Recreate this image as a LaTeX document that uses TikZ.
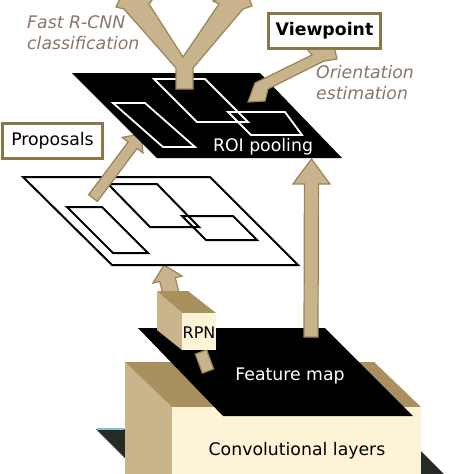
\documentclass[tikz,border=0pt]{standalone}
\usepackage{fontspec}
\setmainfont{DejaVu Sans}
\usetikzlibrary{calc}
\definecolor{tanfill}{HTML}{C8B48C}
\definecolor{tanline}{HTML}{9A8455}
\definecolor{boxline}{HTML}{8C7649}
\definecolor{tandark}{HTML}{A8915E}
\definecolor{tanside}{HTML}{C9B48C}
\definecolor{cream}{HTML}{FDF4D8}
\definecolor{labelc}{HTML}{8A766A}
\definecolor{photo}{HTML}{262B25}
\definecolor{skyblue}{HTML}{86BCE0}
\tikzset{
  arrowshape/.style={fill=tanfill, draw=tanline, line width=1.2pt, line join=miter},
  blackplane/.style={fill=black},
  whiteplane/.style={fill=white, draw=black, line width=2pt, line join=miter},
  whiterect/.style={draw=white, line width=1.8pt, line join=miter},
  blackrect/.style={draw=black, line width=2pt, line join=miter},
  bigfont/.style={font=\fontsize{17.3}{21}\selectfont},
  labelbox/.style={draw=boxline, line width=3pt, fill=white, text=black, inner sep=0pt, bigfont},
  lbl/.style={text=labelc, font=\fontsize{17.3}{21}\selectfont\itshape, align=left, anchor=west, inner sep=0pt},
}
\newcommand\fatarrow[5]{%
  \coordinate (fa-h) at ($(#2)!#5!(#1)$);
  \draw[arrowshape] ($(#1)!#3!90:(#2)$) -- ($(fa-h)!#3!90:(#2)$) -- ($(fa-h)!#4!90:(#2)$) -- (#2)
    -- ($(fa-h)!#4!-90:(#2)$) -- ($(fa-h)!#3!-90:(#2)$) -- ($(#1)!#3!-90:(#2)$) -- cycle;
}
\begin{document}
\begin{tikzpicture}[x=1pt, y=-1pt]
\useasboundingbox (0,0) rectangle (474,474);
\begin{scope}
\clip (0,0) rectangle (474,474);
\fill[white] (0,0) rectangle (474,474);

% input photo plane
\fill[photo] (96,429) -- (399,429) -- (450,480) -- (147,480) -- cycle;
\draw[skyblue, line width=2pt] (97,429) -- (124,429);

% convolutional box
\fill[tanside] (125,362) -- (172,407) -- (172,480) -- (125,480) -- cycle;
\fill[tandark] (125,362) -- (374,362) -- (421,407) -- (172,407) -- cycle;
\fill[cream] (172,407) -- (421,407) -- (421,480) -- (172,480) -- cycle;
\node[bigfont, text=black] (conv) at (297,451) {Convolutional layers};

% feature map
\fill[blackplane] (138,328) -- (325,328) -- (413,416) -- (223,416) -- cycle;
\node[bigfont, text=white] (fmap) at (290,376) {Feature map};

% big arrow feature map -> ROI pooling
\coordinate (va-tail) at (311,337);
\coordinate (va-tip) at (311.5,159);
\fatarrow{va-tail}{va-tip}{7pt}{18.5pt}{25pt}

% RPN stub, RPN up arrow, RPN box
\coordinate (rs-a) at (201,352);
\coordinate (rs-b) at (208,371);
\draw[arrowshape] ($(rs-a)!6pt!90:(rs-b)$) -- ($(rs-b)!6pt!-90:(rs-a)$) -- ($(rs-b)!6pt!90:(rs-a)$) -- ($(rs-a)!6pt!-90:(rs-b)$) -- cycle;
\coordinate (ra-tail) at (173,302);
\coordinate (ra-tip) at (164,265);
\fatarrow{ra-tail}{ra-tip}{8pt}{15pt}{15pt}
\fill[tandark] (157,291) -- (188,291) -- (216,313) -- (182,313) -- cycle;
\fill[tanside] (157,291) -- (182,313) -- (182,350) -- (157,330) -- cycle;
\fill[cream] (182,313) -- (216,313) -- (216,350) -- (182,350) -- cycle;
\node[font=\fontsize{16}{19}\selectfont, text=black] (rpn) at (199,333) {RPN};

% proposals plane
\draw[whiteplane] (23,177) -- (210,177) -- (298,265) -- (112,265) -- cycle;
\draw[blackrect] (67,207) -- (102,207) -- (148,253) -- (113,253) -- cycle;
\draw[blackrect] (108,184) -- (157,184) -- (199,227) -- (150,227) -- cycle;
\draw[blackrect] (182,216) -- (233,216) -- (257,240) -- (206,240) -- cycle;

% proposals -> ROI arrow
\coordinate (pa-tail) at (93,198);
\coordinate (pa-tip) at (141,134);
\fatarrow{pa-tail}{pa-tip}{5.5pt}{13pt}{14pt}

% ROI pooling plane
\fill[blackplane] (72,73) -- (260,73) -- (342,158) -- (157,158) -- cycle;
\draw[whiterect] (154,79) -- (205,79) -- (248,122) -- (197,122) -- cycle;
\draw[whiterect] (113,103) -- (145,103) -- (195,147) -- (163,147) -- cycle;
\draw[whiterect] (228,112) -- (285,112) -- (302,135) -- (251,135) -- cycle;
\node[bigfont, text=white] (roi) at (263,147) {ROI pooling};

% Fast R-CNN Y arrow
\draw[arrowshape] (176,89) -- (176,68) -- (124,9) -- (116,7) -- (125,-12) -- (155,-4) -- (149,4)
  -- (183,57) -- (219,4) -- (213,1) -- (245,-12) -- (252,6) -- (243,9) -- (193,68) -- (193,89) -- cycle;

% orientation arrow
\draw[arrowshape] (248,102) -- (255,83) -- (312,55) -- (307,49) -- (333,42) -- (337,59) -- (324,61)
  -- (268,89) -- (265,101) -- cycle;

\end{scope}

% label boxes
\node[labelbox, minimum width=100pt, minimum height=35pt] (prop) at (52.5,141) {Proposals};
\node[labelbox, minimum width=112pt, minimum height=35pt, font=\fontsize{17.3}{21}\selectfont\bfseries] (view) at (324.5,30.5) {Viewpoint};

% labels
\node[lbl] (frcnn) at (27,32.5) {Fast R-CNN\\classification};
\node[lbl] (orient) at (316,82.5) {Orientation\\estimation};
\end{tikzpicture}
\end{document}
